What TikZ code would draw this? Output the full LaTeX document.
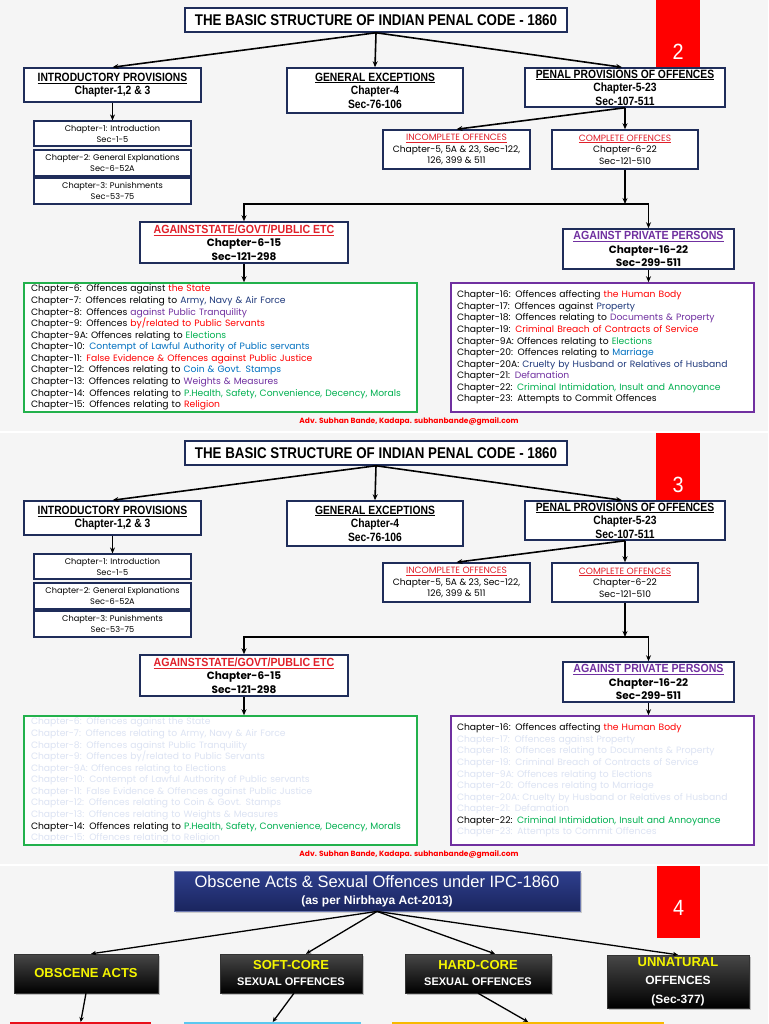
\documentclass[tikz,border=0pt]{standalone}
\usepackage{fontspec}
\setmainfont{Poppins}
\newfontfamily\cnd[FakeStretch=0.86]{Liberation Sans}
\newfontfamily\mdf[FakeStretch=0.9]{Liberation Sans}
\newfontfamily\wid{Liberation Sans}
\usetikzlibrary{arrows.meta,calc,shadows}
\definecolor{bg}{HTML}{F5F5F5}
\definecolor{navy}{HTML}{1F2D5A}
\definecolor{cred}{HTML}{FF0000}
\definecolor{hdred}{HTML}{E0202A}
\definecolor{cdblue}{HTML}{203A7C}
\definecolor{cpurple}{HTML}{7030A0}
\definecolor{cgreen}{HTML}{00B050}
\definecolor{cblue}{HTML}{0070C0}
\definecolor{cfade}{HTML}{DCE3F3}
\definecolor{bxgreen}{HTML}{22B14C}
\definecolor{cyel}{HTML}{F5F500}
\definecolor{rbox}{HTML}{E8101A}
\definecolor{cbox}{HTML}{5BC8F0}
\definecolor{ybox}{HTML}{F7B900}
\definecolor{navtop}{HTML}{2E3F8E}
\definecolor{navbot}{HTML}{1A255E}
\newcommand\fTitle{\cnd\bfseries\fontsize{15.5}{17}\selectfont}
\newcommand\fHead{\cnd\bfseries\fontsize{12}{13.5}\selectfont}
\newcommand\fSmall{\fontsize{8.2}{11}\selectfont}
\newcommand\fMid{\fontsize{9.1}{11.6}\selectfont}
\newcommand\fBold{\bfseries\fontsize{10.5}{13.5}\selectfont}
\newcommand\fFoot{\bfseries\fontsize{7.5}{8}\selectfont}
\newif\ifdimlist
\newcommand\itm[4]{\ifdimlist\ifnum#1=0 \textcolor{cfade}{#2#4}\else #2\textcolor{#3}{#4}\fi\else #2\textcolor{#3}{#4}\fi}
\tikzset{
  box/.style={draw=navy, line width=1.5pt, fill=white, inner sep=0pt, align=center},
  sbox/.style={draw=navy, line width=1.2pt, fill=white, inner sep=0pt, align=center, font=\fSmall, minimum width=157},
  arr/.style={line width=1.6pt, -{Stealth[length=6pt,width=5pt]}},
  arr3/.style={line width=1.3pt, -{Stealth[length=5pt,width=4.5pt]}},
  listbox/.style={fill=white, line width=1.5pt, inner ysep=0pt, align=left, minimum height=129, font=\fontsize{9.2}{11.57}\selectfont},
  numbox/.style={fill=red, inner sep=0pt, anchor=north},
  numtext/.style={text=white, font=\mdf\fontsize{22}{24}\selectfont, inner sep=0pt},
  blk/.style={top color=black!72, bottom color=black, draw=black!80, inner sep=0pt, align=center, text=white,
    drop shadow={shadow xshift=2pt, shadow yshift=-2pt, opacity=0.45}},
  cbar/.style={inner sep=0pt, anchor=north west, minimum height=12}
}
\newcommand\ipcslide[3]{%
\begin{scope}[yshift=#3]
\node[numbox, minimum width=44, minimum height=67] (#1num) at (678,0) {};
\node[numtext] (#1numt) at (678,52) {#2};
\node[box, minimum width=382, minimum height=24, font=\fTitle] (#1title) at (376,20) {THE BASIC STRUCTURE OF INDIAN PENAL CODE - 1860};
\node[box, minimum width=177, minimum height=34, font=\fHead] (#1intro) at (112.5,85) {\underline{INTRODUCTORY PROVISIONS}\\Chapter-1,2 \& 3};
\node[box, minimum width=176, minimum height=45, font=\fHead] (#1genex) at (375,90.5) {\underline{GENERAL EXCEPTIONS}\\Chapter-4\\Sec-76-106};
\node[box, minimum width=200, minimum height=39, font=\fHead] (#1penal) at (625,87.5) {\underline{PENAL PROVISIONS OF OFFENCES}\\Chapter-5-23\\Sec-107-511};
\node[sbox, minimum height=25] (#1ch1) at (112.5,133.5) {Chapter-1: Introduction\\Sec-1-5};
\node[sbox, minimum height=26] (#1ch2) at (112.5,163) {Chapter-2: General Explanations\\Sec-6-52A};
\node[sbox, minimum height=26] (#1ch3) at (112.5,191) {Chapter-3: Punishments\\Sec-53-75};
\node[box, minimum width=147, minimum height=39, font=\fMid] (#1inc) at (456.5,149.5) {{\color{hdred}\underline{INCOMPLETE OFFENCES}}\\Chapter-5, 5A \& 23, Sec-122,\\126, 399 \& 511};
\node[box, minimum width=146, minimum height=39, font=\fMid] (#1com) at (625,149.5) {{\color{hdred}\underline{COMPLETE OFFENCES}}\\Chapter-6-22\\Sec-121-510};
\node[box, minimum width=208, minimum height=41, font=\fBold] (#1state) at (244,242.5) {{\mdf\fontsize{11.8}{13}\selectfont\color{hdred}\underline{AGAINSTSTATE/GOVT/PUBLIC ETC}}\\Chapter-6-15\\Sec-121-298};
\node[box, minimum width=171, minimum height=40, font=\fBold] (#1priv) at (648.5,249) {{\mdf\fontsize{11.8}{13}\selectfont\color{cpurple}\underline{AGAINST PRIVATE PERSONS}}\\Chapter-16-22\\Sec-299-511};
\node[listbox, draw=bxgreen, inner xsep=7pt, text width=379] (#1glist) at (220.5,347.5) {%
\itm{0}{Chapter-6: Offences against }{cred}{the State}\\
\itm{0}{Chapter-7: Offences relating to }{cdblue}{Army, Navy \& Air Force}\\
\itm{0}{Chapter-8: Offences }{cpurple}{against Public Tranquility}\\
\itm{0}{Chapter-9: Offences }{cred}{by/related to Public Servants}\\
\itm{0}{Chapter-9A: Offences relating to }{cgreen}{Elections}\\
\itm{0}{Chapter-10: }{cblue}{Contempt of Lawful Authority of Public servants}\\
\itm{0}{Chapter-11: }{cred}{False Evidence \& Offences against Public Justice}\\
\itm{0}{Chapter-12: Offences relating to }{cblue}{Coin \& Govt. Stamps}\\
\itm{0}{Chapter-13: Offences relating to }{cpurple}{Weights \& Measures}\\
\itm{1}{Chapter-14: Offences relating to }{cgreen}{P.Health, Safety, Convenience, Decency, Morals}\\
\itm{0}{Chapter-15: Offences relating to }{cred}{Religion}};
\node[listbox, draw=cpurple, inner xsep=6pt, text width=291] (#1plist) at (602.5,347.5) {%
\itm{1}{Chapter-16: Offences affecting }{cred}{the Human Body}\\
\itm{0}{Chapter-17: Offences against }{cdblue}{Property}\\
\itm{0}{Chapter-18: Offences relating to }{cpurple}{Documents \& Property}\\
\itm{0}{Chapter-19: }{cred}{Criminal Breach of Contracts of Service}\\
\itm{0}{Chapter-9A: Offences relating to }{cgreen}{Elections}\\
\itm{0}{Chapter-20: Offences relating to }{cblue}{Marriage}\\
\itm{0}{Chapter-20A: }{cdblue}{Cruelty by Husband or Relatives of Husband}\\
\itm{0}{Chapter-21: }{cpurple}{Defamation}\\
\itm{1}{Chapter-22: }{cgreen}{Criminal Intimidation, Insult and Annoyance}\\
\itm{0}{Chapter-23: Attempts to Commit Offences}{black}{}};
\node[font=\fFoot, text=cred, inner sep=0pt] (#1foot) at (409,422) {Adv. Subhan Bande, Kadapa. subhanbande@gmail.com};
\draw[arr] (#1title.south) -- (#1intro.north);
\draw[arr] (#1title.south) -- (#1genex.north);
\draw[arr] (#1title.south) -- ($(#1penal.north)+(-3,0)$);
\draw[arr] (#1intro.south) -- (#1ch1.north);
\draw[arr] (#1penal.south) -- (#1inc.north);
\draw[arr] (#1penal.south) -- (#1com.north);
\coordinate (#1jn) at (625,204);
\draw[arr] (#1com.south) -- (#1jn);
\draw[arr] (#1jn) -| (#1state.north);
\draw[arr] (#1jn) -| (#1priv.north);
\draw[arr] (#1state.south) -- (#1state.south |- #1glist.north);
\draw[arr] (#1priv.south) -- (#1priv.south |- #1plist.north);
\end{scope}}
\begin{document}
\begin{tikzpicture}[x=1pt,y=-1pt]
\useasboundingbox (0,0) rectangle (768,1024);
\fill[bg] (0,0) rectangle (768,1024);
\fill[white] (0,431) rectangle (768,432.5);
\fill[white] (0,864) rectangle (768,865.5);
\dimlistfalse
\ipcslide{a}{2}{0pt}
\dimlisttrue
\ipcslide{b}{3}{-433pt}
% slide 3
\node[numbox, minimum width=43, minimum height=72] (cnum) at (678.5,866) {};
\node[numtext] (cnumt) at (678.5,908) {4};
\node[top color=navtop, bottom color=navbot, draw=navtop!70!white, line width=0.8pt, inner sep=0pt, align=center, text=white,
  minimum width=406, minimum height=40, drop shadow={shadow xshift=1.5pt, shadow yshift=-1.5pt, opacity=0.35},
  font=\wid\fontsize{16.5}{17}\selectfont] (ctitle) at (377,891) {Obscene Acts \& Sexual Offences under IPC-1860\\{\bfseries\fontsize{12}{13}\selectfont (as per Nirbhaya Act-2013)}};
\node[blk, minimum width=144, minimum height=39, font=\wid\bfseries\fontsize{13}{16}\selectfont] (cob) at (86,973.5) {\color{cyel}OBSCENE ACTS};
\node[blk, minimum width=142, minimum height=39, font=\wid\bfseries\fontsize{13}{16}\selectfont] (csoft) at (291,973.5) {{\color{cyel}SOFT-CORE}\\{\fontsize{11}{12}\selectfont SEXUAL OFFENCES}};
\node[blk, minimum width=146, minimum height=39, font=\wid\bfseries\fontsize{13}{16}\selectfont] (chard) at (478,973.5) {{\color{cyel}HARD-CORE}\\{\fontsize{11}{12}\selectfont SEXUAL OFFENCES}};
\node[blk, minimum width=142, minimum height=53, font=\wid\bfseries\fontsize{13}{18.5}\selectfont] (cunn) at (678,981.5) {{\color{cyel}UNNATURAL}\\{\fontsize{12}{13}\selectfont OFFENCES}\\{\fontsize{12}{13}\selectfont (Sec-377)}};
\node[cbar, fill=rbox, minimum width=141] (crb) at (10,1022) {};
\node[cbar, fill=cbox, minimum width=177] (ccb) at (184,1022) {};
\node[cbar, fill=ybox, minimum width=272] (cyb) at (392,1022) {};
\draw[arr3] (ctitle.south) -- ($(cob.north)+(5,0)$);
\draw[arr3] (ctitle.south) -- ($(csoft.north)+(15,0)$);
\draw[arr3] (ctitle.south) -- ($(chard.north)+(17,0)$);
\draw[arr3] (ctitle.south) -- (cunn.north);
\draw[arr3] (cob.south) -- (crb.north);
\draw[arr3] ($(csoft.south)+(3,0)$) -- (ccb.north);
\draw[arr3] (chard.south) -- (cyb.north);
\end{tikzpicture}
\end{document}
